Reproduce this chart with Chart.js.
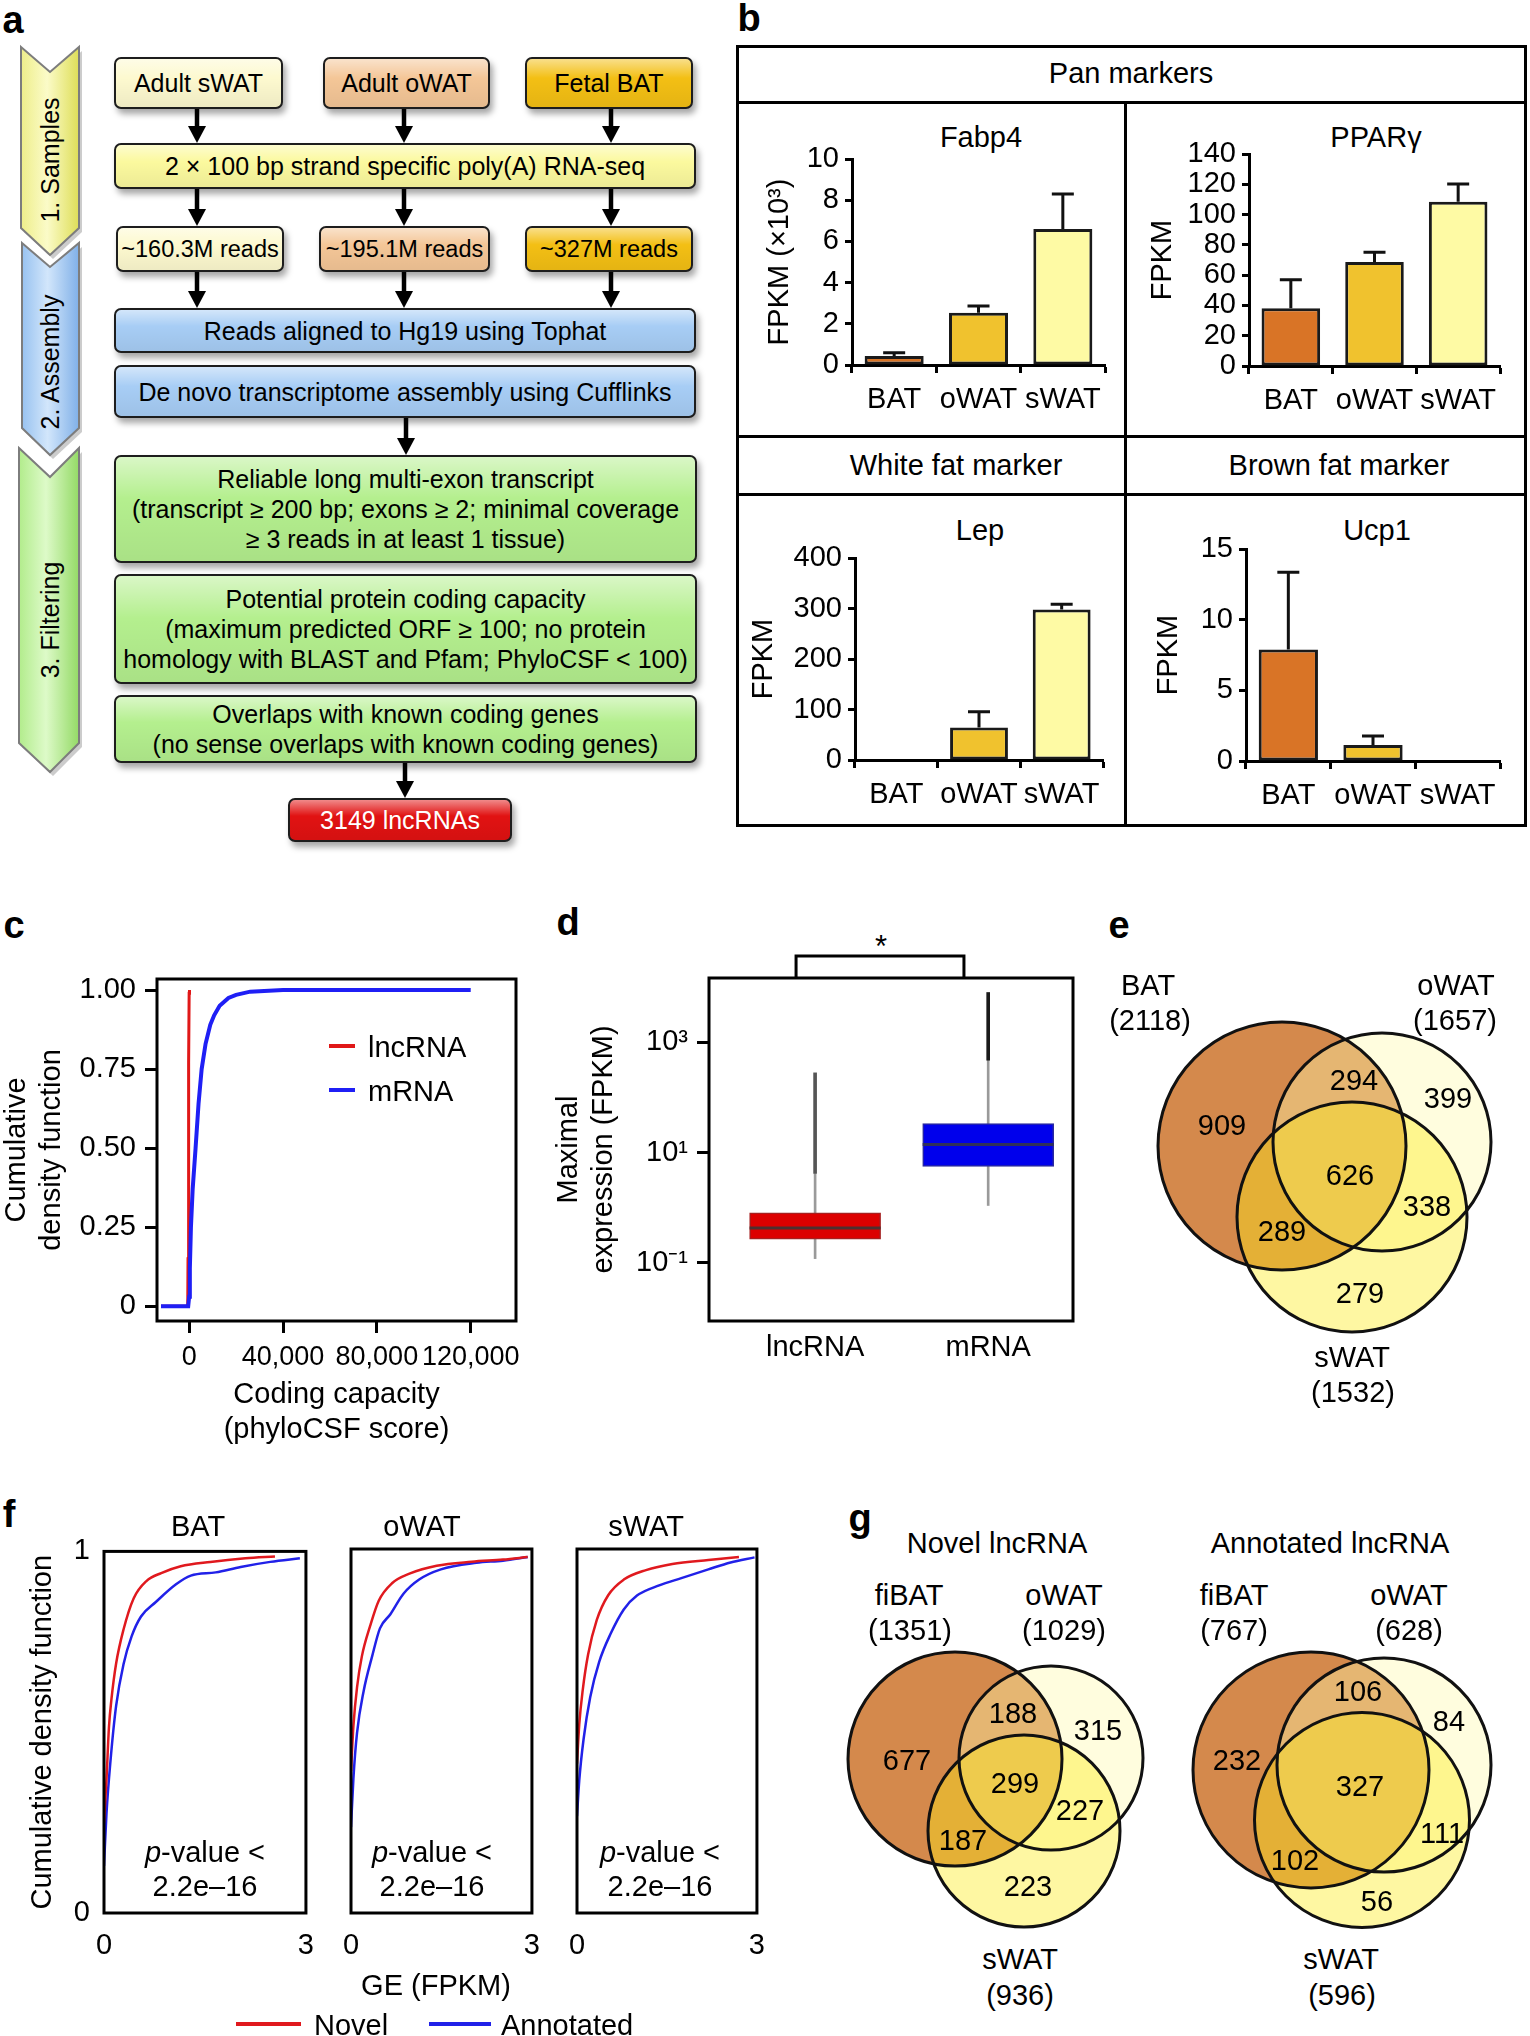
<!DOCTYPE html>
<html lang="en">
<head>
<meta charset="UTF-8">
<title>Adipose lncRNA figure</title>
<script src="https://cdn.jsdelivr.net/npm/chart.js"></script>
<style>
  body { margin: 0; background: #fff; }
  #page { position: relative; width: 1530px; height: 2036px; overflow: hidden; background: #fff;
          font-family: "Liberation Sans", Arial, Helvetica, sans-serif; color: #000; }
  #page canvas { position: absolute; }
  .t { position: absolute; white-space: nowrap; font-size: 29px; line-height: 1; transform: translate(-50%, -50%); }
  .tl { position: absolute; white-space: nowrap; font-size: 29px; line-height: 1; transform: translate(0, -50%); }
  .rot { position: absolute; white-space: nowrap; font-size: 25px; line-height: 1; transform: translate(-50%, -50%) rotate(-90deg); }
  .lab { position: absolute; font-weight: bold; font-size: 38px; line-height: 1; transform: translate(-50%, -50%); }
  .fb { position: absolute; box-sizing: border-box; border: 2.5px solid #1d1d1d; border-radius: 7px;
        display: flex; align-items: center; justify-content: center; text-align: center; white-space: nowrap;
        font-size: 25px; line-height: 30px; box-shadow: 3px 5px 6px rgba(0,0,0,0.35);
        background-image: linear-gradient(to bottom, rgba(255,255,255,0.5), rgba(255,255,255,0) 40%, rgba(0,0,0,0.06)); }
  .rule { position: absolute; background: #000; }
  .key { position: absolute; height: 4px; }
</style>
</head>
<body>
<div id="page">
  <svg width="720" height="880" style="position:absolute;left:0;top:0">
    <defs>
      <linearGradient id="gS" x1="0" x2="1"><stop offset="0" stop-color="#eeee8a"/><stop offset="0.45" stop-color="#fbfbc8"/><stop offset="1" stop-color="#dede58"/></linearGradient>
      <linearGradient id="gA" x1="0" x2="1"><stop offset="0" stop-color="#98c2f0"/><stop offset="0.45" stop-color="#d2e6fb"/><stop offset="1" stop-color="#80b0e8"/></linearGradient>
      <linearGradient id="gF" x1="0" x2="1"><stop offset="0" stop-color="#b2ec8c"/><stop offset="0.45" stop-color="#ddfac8"/><stop offset="1" stop-color="#94da66"/></linearGradient>
    </defs>
    <g fill="rgba(0,0,0,0.2)" transform="translate(3,4)">
      <polygon points="21,47 50,72 79,47 79,228 50,255 21,228"/>
      <polygon points="22,243 50,267 79,243 79,428 50,455 22,428"/>
      <polygon points="19,448 50,477 79,448 79,743 50,772 19,743"/>
    </g>
    <polygon points="21,47 50,72 79,47 79,228 50,255 21,228" fill="url(#gS)" stroke="#7d7d7d" stroke-width="2"/>
    <polygon points="22,243 50,267 79,243 79,428 50,455 22,428" fill="url(#gA)" stroke="#7d7d7d" stroke-width="2"/>
    <polygon points="19,448 50,477 79,448 79,743 50,772 19,743" fill="url(#gF)" stroke="#7d7d7d" stroke-width="2"/>
    <g id="arrows" fill="#000" stroke="#000"></g>
  </svg>
</div>
<script>
// ---------------- data ----------------
// b: marker gene expression (FPKM), mean and upper error
const bCats = ['BAT', 'oWAT', 'sWAT'];
const bColors = ['#d97426', '#f0c22e', '#fefaa4'];
const fabp4 = [0.44, 2.54, 6.6];
const fabp4Err = [0.16, 0.33, 1.7];
const pparg = [38.1, 68.6, 108.5];
const ppargErr = [18.8, 6.6, 11.7];
const lep = [0.8, 64.6, 297.9];
const lepErr = [0, 31, 10.6];
const ucp1 = [7.89, 1.13, 0.05];
const ucp1Err = [5.46, 0.64, 0];

// c: coding capacity CDF
const cXTicks = [0, 40000, 80000, 120000];
const cXLabels = ['0', '40,000', '80,000', '120,000'];
const cYTicks = [0, 0.25, 0.5, 0.75, 1];
const cYLabels = ['0', '0.25', '0.50', '0.75', '1.00'];
const lncX = [-12000, -600, -480, -300, -150, 0, 150];
const lncY = [0, 0, 0.15, 0.5, 0.77, 0.99, 1.0];
const mrnaX = [-12000, -400, 0, 300, 760, 1500, 2740, 4000, 5330, 7000, 9000, 10660, 13000, 16750, 20000, 26000, 40000, 120000];
const mrnaY = [0, 0, 0.03, 0.12, 0.25, 0.37, 0.5, 0.64, 0.75, 0.83, 0.89, 0.92, 0.95, 0.975, 0.985, 0.995, 1.0, 1.0];

// d: maximal expression boxplot (FPKM)
const dCats = ['lncRNA', 'mRNA'];
const dQ1 = [0.27, 5.6];
const dMedian = [0.43, 14];
const dQ3 = [0.81, 33.5];
const dWhiskLo = [0.12, 1.1];
const dWhiskHi = [4.2, 470];
const dOutlierMax = [277, 7900];
const dYTicks = [0.1, 10, 1000];
const dYLabels = ['10\u207B\u00B9', '10\u00B9', '10\u00B3'];

// e: lncRNA overlap between depots
const eSets = ['BAT', 'oWAT', 'sWAT'];
const eTotals = [2118, 1657, 1532];
const eRegions = ['909', '294', '399', '626', '338', '289', '279'];

// f: CDF of expression, novel vs annotated
const fXTicks = [0, 3];
const fYTicks = [0, 1];
const fTissues = ['BAT', 'oWAT', 'sWAT'];
const fBatNovel = [[0, 0.25], [0.037, 0.37], [0.074, 0.515], [0.11, 0.59], [0.18, 0.69], [0.29, 0.784], [0.44, 0.87], [0.63, 0.918], [0.85, 0.94], [1.14, 0.959], [1.58, 0.971], [2.1, 0.981], [2.54, 0.986]];
const fBatAnnot = [[0, 0.13], [0.037, 0.275], [0.096, 0.42], [0.18, 0.573], [0.29, 0.688], [0.41, 0.765], [0.55, 0.82], [0.77, 0.86], [1.07, 0.909], [1.29, 0.933], [1.66, 0.942], [2.03, 0.957], [2.47, 0.971], [2.91, 0.981]];
const fOwatNovel = [[0, 0.39], [0.04, 0.514], [0.1, 0.62], [0.18, 0.705], [0.32, 0.79], [0.46, 0.858], [0.68, 0.906], [0.98, 0.933], [1.42, 0.954], [2.0, 0.965], [2.52, 0.971], [2.93, 0.978]];
const fOwatAnnot = [[0, 0.236], [0.04, 0.37], [0.1, 0.495], [0.21, 0.61], [0.35, 0.705], [0.48, 0.782], [0.65, 0.82], [0.87, 0.877], [1.13, 0.916], [1.49, 0.944], [2.08, 0.962], [2.52, 0.968], [2.93, 0.978]];
const fSwatNovel = [[0, 0.41], [0.037, 0.517], [0.096, 0.613], [0.185, 0.71], [0.33, 0.805], [0.52, 0.873], [0.78, 0.916], [1.15, 0.942], [1.59, 0.959], [2.19, 0.97], [2.7, 0.978]];
const fSwatAnnot = [[0, 0.266], [0.037, 0.363], [0.11, 0.478], [0.22, 0.593], [0.37, 0.69], [0.56, 0.767], [0.78, 0.834], [1.0, 0.872], [1.37, 0.9], [1.74, 0.92], [2.19, 0.944], [2.56, 0.963], [2.96, 0.977]];

// g: novel vs annotated lncRNA overlaps
const gSets = ['fiBAT', 'oWAT', 'sWAT'];
const gNovelTotals = [1351, 1029, 936];
const gNovelRegions = ['677', '188', '315', '299', '227', '187', '223'];
const gAnnotTotals = [767, 628, 596];
const gAnnotRegions = ['232', '106', '84', '327', '111', '102', '56'];

// ---------------- layout helpers ----------------
const page = document.getElementById('page');

function text(html, x, y, cls, style) {
  const d = document.createElement('div');
  d.className = cls || 't';
  d.innerHTML = html;
  d.style.left = x + 'px';
  d.style.top = y + 'px';
  if (style) d.style.cssText += style;
  page.appendChild(d);
  return d;
}

function canvasAt(cv) {
  const c = document.createElement('canvas');
  c.width = cv.r - cv.l;
  c.height = cv.b - cv.t;
  c.style.left = cv.l + 'px';
  c.style.top = cv.t + 'px';
  c.style.width = (cv.r - cv.l) + 'px';
  c.style.height = (cv.b - cv.t) + 'px';
  page.appendChild(c);
  return c;
}

Chart.defaults.font.family = '"Liberation Sans", Arial, Helvetica, sans-serif';
Chart.defaults.font.size = 29;
Chart.defaults.color = '#000';
Chart.defaults.animation = false;
Chart.defaults.responsive = false;
Chart.defaults.events = [];
Chart.defaults.layout.autoPadding = false;
Chart.defaults.plugins.legend.display = false;
Chart.defaults.plugins.tooltip.enabled = false;

// box round the plot area (R style)
const frame = {
  id: 'frame',
  afterDatasetsDraw(chart, args, opts) {
    const { ctx, chartArea: a } = chart;
    ctx.save();
    ctx.lineWidth = opts.width || 3;
    ctx.strokeStyle = '#000';
    ctx.strokeRect(a.left, a.top, a.right - a.left, a.bottom - a.top);
    ctx.restore();
  }
};

// upper error bars for panel b
const errorBars = {
  id: 'errorBars',
  afterDatasetsDraw(chart, args, opts) {
    const { ctx } = chart;
    const y = chart.scales.y;
    const vals = chart.data.datasets[0].data;
    ctx.save();
    ctx.strokeStyle = '#111';
    ctx.lineWidth = 3;
    chart.getDatasetMeta(0).data.forEach((bar, i) => {
      const e = opts.errors[i];
      if (!e) return;
      const y0 = y.getPixelForValue(vals[i]);
      const y1 = y.getPixelForValue(vals[i] + e);
      ctx.beginPath();
      ctx.moveTo(bar.x, y0);
      ctx.lineTo(bar.x, y1);
      ctx.moveTo(bar.x - 11, y1);
      ctx.lineTo(bar.x + 11, y1);
      ctx.stroke();
    });
    ctx.restore();
  }
};

// ---------------- panel a: pipeline ----------------
const flow = [
  ['Adult sWAT', 114, 57, 283, 109, '#fdf9cf'],
  ['Adult oWAT', 323, 57, 490, 109, '#f4c697'],
  ['Fetal BAT', 525, 57, 693, 109, '#f3bf14'],
  ['2 × 100 bp strand specific poly(A) RNA-seq', 114, 143, 696, 189, '#fbf99e'],
  ['~160.3M reads', 116, 226, 284, 272, '#fdf9cf'],
  ['~195.1M reads', 319, 226, 490, 272, '#f4c697'],
  ['~327M reads', 525, 226, 693, 272, '#f3bf14'],
  ['Reads aligned to Hg19 using Tophat', 114, 308, 696, 353, '#a7cdf5'],
  ['De novo transcriptome assembly using Cufflinks', 114, 365, 696, 418, '#a7cdf5'],
  ['Reliable long multi-exon transcript<br>(transcript ≥ 200 bp; exons ≥ 2; minimal coverage<br>≥ 3 reads in at least 1 tissue)', 114, 455, 697, 563, '#b4ef8e'],
  ['Potential protein coding capacity<br>(maximum predicted ORF ≥ 100; no protein<br>homology with BLAST and Pfam; PhyloCSF &lt; 100)', 114, 574, 697, 684, '#b4ef8e'],
  ['Overlaps with known coding genes<br>(no sense overlaps with known coding genes)', 114, 695, 697, 763, '#b4ef8e'],
  ['3149 lncRNAs', 288, 798, 512, 842, '#e11212']
];
flow.forEach(([t, l, top, r, b, bg]) => {
  const d = document.createElement('div');
  d.className = 'fb';
  d.innerHTML = t;
  d.style.cssText += `left:${l}px;top:${top}px;width:${r - l}px;height:${b - top}px;background-color:${bg};`;
  if (bg === '#e11212') d.style.color = '#fff';
  if (t.indexOf('reads') > 0 && t.length < 15) d.style.fontSize = '23.5px';
  page.appendChild(d);
});

const arrowList = [[197, 109, 143], [404, 109, 143], [611, 109, 143],
  [197, 189, 226], [404, 189, 226], [611, 189, 226],
  [197, 272, 308], [404, 272, 308], [611, 272, 308],
  [406, 418, 455], [405, 763, 798]];
const svgNS = 'http://www.w3.org/2000/svg';
const arrowG = document.getElementById('arrows');
arrowList.forEach(([x, y1, y2]) => {
  const ln = document.createElementNS(svgNS, 'line');
  ln.setAttribute('x1', x); ln.setAttribute('x2', x);
  ln.setAttribute('y1', y1); ln.setAttribute('y2', y2 - 14);
  ln.setAttribute('stroke-width', '4.5');
  arrowG.appendChild(ln);
  const hd = document.createElementNS(svgNS, 'polygon');
  hd.setAttribute('points', `${x - 9},${y2 - 17} ${x + 9},${y2 - 17} ${x},${y2}`);
  hd.setAttribute('stroke', 'none');
  arrowG.appendChild(hd);
});
text('1. Samples', 50, 160, 'rot');
text('2. Assembly', 50, 362, 'rot');
text('3. Filtering', 50, 620, 'rot');
text('a', 13, 20, 'lab');

// ---------------- panel b: marker bars ----------------
text('b', 749, 18, 'lab');
[[736, 45, 791, 3], [736, 101, 791, 3], [736, 435, 791, 3], [736, 493, 791, 3], [736, 824, 791, 3]].forEach(([l, t, w, h]) =>
  text('', l, t, 'rule', `width:${w}px;height:${h}px;transform:none;`));
[[736, 45, 3, 782], [1524, 45, 3, 782], [1124, 101, 3, 726]].forEach(([l, t, w, h]) =>
  text('', l, t, 'rule', `width:${w}px;height:${h}px;transform:none;`));
text('Pan markers', 1131, 73);
text('White fat marker', 956, 465);
text('Brown fat marker', 1339, 465);
text('Fabp4', 981, 137);
text('PPAR\u03B3', 1376, 137);
text('Lep', 980, 530);
text('Ucp1', 1377, 530);

function barPanel(cv, area, vals, errs, yMax, yStep, yTitle) {
  return new Chart(canvasAt(cv), {
    type: 'bar',
    data: {
      labels: bCats,
      datasets: [{
        data: vals,
        backgroundColor: bColors,
        borderColor: '#1a1a1a',
        borderWidth: 3,
        borderSkipped: false,
        barPercentage: 0.7,
        categoryPercentage: 1
      }]
    },
    options: {
      layout: { padding: { top: area.t - cv.t, right: cv.r - area.r, left: 0, bottom: 0 } },
      scales: {
        x: {
          grid: { display: true, offset: true, drawOnChartArea: false, tickLength: 8, tickWidth: 3, tickColor: '#000' },
          border: { color: '#000', width: 3 },
          ticks: { padding: 10, autoSkip: false, maxRotation: 0 },
          afterFit: s => { s.height = cv.b - area.b; }
        },
        y: {
          min: 0, max: yMax,
          ticks: { stepSize: yStep, padding: 6, autoSkip: false },
          grid: { drawOnChartArea: false, tickLength: 7, tickWidth: 3, tickColor: '#000' },
          border: { color: '#000', width: 3 },
          title: { display: true, text: yTitle, padding: 0, font: { size: 29, lineHeight: 1.2 } },
          afterFit: s => { s.width = area.l - cv.l; }
        }
      },
      plugins: { errorBars: { errors: errs } }
    },
    plugins: [errorBars]
  });
}
barPanel({ l: 763, t: 115, r: 1118, b: 425 }, { l: 852, t: 159, r: 1105, b: 365 }, fabp4, fabp4Err, 10, 2, 'FPKM (\u00D710\u00B3)');
barPanel({ l: 1146, t: 110, r: 1515, b: 425 }, { l: 1249, t: 154, r: 1500, b: 366 }, pparg, ppargErr, 140, 20, 'FPKM');
barPanel({ l: 747, t: 515, r: 1115, b: 820 }, { l: 855, t: 558, r: 1103, b: 760 }, lep, lepErr, 400, 100, 'FPKM');
barPanel({ l: 1152, t: 505, r: 1515, b: 820 }, { l: 1246, t: 549, r: 1500, b: 761 }, ucp1, ucp1Err, 15, 5, 'FPKM');

// ---------------- panel c: coding capacity ----------------
text('c', 14, 925, 'lab');
{
  const cv = { l: 0, t: 950, r: 560, b: 1447 };
  const area = { l: 157, t: 979, r: 516, b: 1321 };
  new Chart(canvasAt(cv), {
    type: 'line',
    data: {
      datasets: [
        { data: mrnaX.map((x, i) => ({ x, y: mrnaY[i] })), borderColor: '#1f1ff5', borderWidth: 4 },
        { data: lncX.map((x, i) => ({ x, y: lncY[i] })), borderColor: '#e01818', borderWidth: 3 }
      ]
    },
    options: {
      elements: { point: { radius: 0 }, line: { tension: 0 } },
      layout: { padding: { top: area.t - cv.t, right: cv.r - area.r, left: 0, bottom: 0 } },
      scales: {
        x: {
          type: 'linear', min: -13700, max: 139300,
          afterBuildTicks: s => { s.ticks = cXTicks.map(v => ({ value: v })); },
          ticks: { callback: (v, i) => cXLabels[i], padding: 8, maxRotation: 0, autoSkip: false, font: { size: 27 } },
          grid: { drawOnChartArea: false, tickLength: 12, tickWidth: 3, tickColor: '#000' },
          border: { display: false },
          title: { display: true, text: ['Coding capacity', '(phyloCSF score)'], padding: 0, font: { size: 29, lineHeight: 1.2 } },
          afterFit: s => { s.height = cv.b - area.b; }
        },
        y: {
          min: -0.047, max: 1.035,
          afterBuildTicks: s => { s.ticks = cYTicks.map(v => ({ value: v })); },
          ticks: { callback: (v, i) => cYLabels[i], padding: 9 },
          grid: { drawOnChartArea: false, tickLength: 12, tickWidth: 3, tickColor: '#000' },
          border: { display: false },
          title: { display: true, text: ['Cumulative', 'density function'], padding: 0, font: { size: 29, lineHeight: 1.2 } },
          afterFit: s => { s.width = area.l - cv.l; }
        }
      },
      plugins: { frame: { width: 3 } }
    },
    plugins: [frame]
  });
}
text('', 329, 1044, 'key', 'width:26px;background:#e01818;');
text('lncRNA', 368, 1047, 'tl');
text('', 329, 1088, 'key', 'width:26px;background:#1f1ff5;');
text('mRNA', 368, 1091, 'tl');

// ---------------- panel d: maximal expression ----------------
text('d', 568, 922, 'lab');
text('*', 881, 946, 't', 'font-size:31px;');
const boxExtras = {
  id: 'boxExtras',
  afterDatasetsDraw(chart, args, opts) {
    const { ctx, chartArea: ca } = chart;
    const { x, y } = chart.scales;
    const boxes = chart.getDatasetMeta(0).data;
    ctx.save();
    ctx.lineWidth = 3;
    opts.median.forEach((m, i) => {
      const half = boxes[i].width / 2;
      const yy = y.getPixelForValue(m);
      ctx.strokeStyle = opts.medianColors[i];
      ctx.beginPath();
      ctx.moveTo(boxes[i].x - half, yy);
      ctx.lineTo(boxes[i].x + half, yy);
      ctx.stroke();
    });
    const x0 = x.getPixelForValue(opts.bracket[0]);
    const x1 = x.getPixelForValue(opts.bracket[1]);
    ctx.strokeStyle = '#000';
    ctx.beginPath();
    ctx.moveTo(x0, ca.top);
    ctx.lineTo(x0, ca.top - 22);
    ctx.lineTo(x1, ca.top - 22);
    ctx.lineTo(x1, ca.top);
    ctx.stroke();
    ctx.restore();
  }
};
{
  const cv = { l: 552, t: 930, r: 1090, b: 1380 };
  const area = { l: 709, t: 978, r: 1073, b: 1321 };
  const pos = dCats.map((c, i) => i + 1);
  new Chart(canvasAt(cv), {
    type: 'bar',
    data: {
      datasets: [
        { data: pos.map((p, i) => ({ x: p, y: [dQ1[i], dQ3[i]] })), backgroundColor: ['#dc0000', '#0000ec'],
          borderColor: ['#a52020', '#2a2aa0'], borderWidth: 1.5, borderSkipped: false, barThickness: 131, grouped: false },
        { data: pos.map((p, i) => ({ x: p, y: [dWhiskHi[i], dOutlierMax[i]] })), backgroundColor: ['#555', '#1a1a1a'],
          barThickness: 3, grouped: false },
        { data: pos.map((p, i) => ({ x: p, y: [dWhiskLo[i], dWhiskHi[i]] })), backgroundColor: '#9a9a9a',
          barThickness: 2, grouped: false }
      ]
    },
    options: {
      layout: { padding: { top: area.t - cv.t, right: cv.r - area.r, left: 0, bottom: 0 } },
      scales: {
        x: {
          type: 'linear', min: 0.387, max: 2.49, offset: false,
          afterBuildTicks: s => { s.ticks = pos.map(v => ({ value: v })); },
          ticks: { callback: (v, i) => dCats[i], padding: 10, maxRotation: 0, autoSkip: false },
          grid: { display: false, drawTicks: false, offset: false },
          border: { display: false },
          afterFit: s => { s.height = cv.b - area.b; }
        },
        y: {
          type: 'logarithmic', min: 0.00891, max: 14454,
          afterBuildTicks: s => { s.ticks = dYTicks.map(v => ({ value: v })); },
          ticks: { callback: (v, i) => dYLabels[i], padding: 9 },
          grid: { drawOnChartArea: false, tickLength: 12, tickWidth: 3, tickColor: '#000' },
          border: { display: false },
          title: { display: true, text: ['Maximal', 'expression (FPKM)'], padding: 0, font: { size: 29, lineHeight: 1.2 } },
          afterFit: s => { s.width = area.l - cv.l; }
        }
      },
      plugins: {
        frame: { width: 3 },
        boxExtras: { median: dMedian, medianColors: ['#4d3030', '#30305a'], bracket: [0.89, 1.86] }
      }
    },
    plugins: [frame, boxExtras]
  });
}

// ---------------- Venn diagrams (e, g) ----------------
const vennFills = ['rgb(212,137,76)', 'rgba(255,250,172,0.4)', 'rgba(253,235,23,0.4)'];
const vennText = {
  id: 'vennText',
  afterDatasetsDraw(chart, args, opts) {
    const { ctx } = chart;
    const { x, y } = chart.scales;
    ctx.save();
    ctx.font = '29px "Liberation Sans", Arial, sans-serif';
    ctx.fillStyle = '#000';
    ctx.textAlign = 'center';
    ctx.textBaseline = 'middle';
    opts.labels.forEach((t, i) => ctx.fillText(t, x.getPixelForValue(opts.pos[i][0]), y.getPixelForValue(opts.pos[i][1])));
    ctx.restore();
  }
};
function venn(cv, origin, circles, regions, regionPos) {
  const ds = circles.map((c, i) => ({
    data: [{ x: c[0], y: c[1], r: c[2] }], backgroundColor: vennFills[i], borderWidth: 0, order: 3 - i
  }));
  ds.push({ data: circles.map(c => ({ x: c[0], y: c[1], r: c[2] })), backgroundColor: 'rgba(0,0,0,0)',
    borderColor: '#111', borderWidth: 3, order: 0 });
  return new Chart(canvasAt(cv), {
    type: 'bubble',
    data: { datasets: ds },
    options: {
      layout: { padding: 0, autoPadding: false },
      clip: false,
      scales: {
        x: { display: false, min: cv.l - origin[0], max: cv.r - origin[0] },
        y: { display: false, min: origin[1] - cv.b, max: origin[1] - cv.t }
      },
      plugins: { vennText: { labels: regions, pos: regionPos } }
    },
    plugins: [vennText]
  });
}

// panel e
text('e', 1119, 925, 'lab');
venn({ l: 1130, t: 1000, r: 1520, b: 1345 }, [1282, 1146],
  [[0, 0, 124], [100, 4, 109], [70, -71, 115]], eRegions,
  [[-60, 19], [72, 64], [166, 46], [68, -31], [145, -62], [0, -87], [78, -149]]);
text(eSets[0], 1148, 985); text('(' + eTotals[0] + ')', 1150, 1020);
text(eSets[1], 1456, 985); text('(' + eTotals[1] + ')', 1455, 1020);
text(eSets[2], 1352, 1357); text('(' + eTotals[2] + ')', 1353, 1392);

// panel g
text('g', 860, 1518, 'lab');
text('Novel lncRNA', 997, 1543);
text('Annotated lncRNA', 1330, 1543);
venn({ l: 835, t: 1640, r: 1150, b: 1935 }, [955, 1759],
  [[0, 0, 107], [96, 1, 92], [69, -72, 96]], gNovelRegions,
  [[-48, -3], [58, 44], [143, 27], [60, -26], [125, -53], [8, -83], [73, -129]]);
venn({ l: 1180, t: 1640, r: 1505, b: 1935 }, [1311, 1770],
  [[0, 0, 118], [73, 5, 107], [51, -50, 107.5]], gAnnotRegions,
  [[-74, 8], [47, 77], [138, 47], [49, -18], [131, -65], [-16, -92], [66, -133]]);
text(gSets[0], 909, 1595); text('(' + gNovelTotals[0] + ')', 910, 1630);
text(gSets[1], 1064, 1595); text('(' + gNovelTotals[1] + ')', 1064, 1630);
text(gSets[2], 1020, 1959); text('(' + gNovelTotals[2] + ')', 1020, 1995);
text(gSets[0], 1234, 1595); text('(' + gAnnotTotals[0] + ')', 1234, 1630);
text(gSets[1], 1409, 1595); text('(' + gAnnotTotals[1] + ')', 1409, 1630);
text(gSets[2], 1341, 1959); text('(' + gAnnotTotals[2] + ')', 1342, 1995);

// ---------------- panel f: expression CDFs ----------------
text('f', 9, 1514, 'lab');
function cdfPanel(cv, area, novel, annot, withY) {
  return new Chart(canvasAt(cv), {
    type: 'line',
    data: {
      datasets: [
        { data: novel.map(p => ({ x: p[0], y: p[1] })), borderColor: '#e0191e', borderWidth: 2.5 },
        { data: annot.map(p => ({ x: p[0], y: p[1] })), borderColor: '#2121e8', borderWidth: 2.5 }
      ]
    },
    options: {
      elements: { point: { radius: 0 }, line: { cubicInterpolationMode: 'monotone' } },
      layout: { padding: { top: area.t - cv.t, right: cv.r - area.r, left: withY ? 0 : area.l - cv.l, bottom: 0 } },
      scales: {
        x: {
          type: 'linear', min: 0, max: 3,
          afterBuildTicks: s => { s.ticks = fXTicks.map(v => ({ value: v })); },
          ticks: { padding: 16, maxRotation: 0, autoSkip: false },
          grid: { display: false, drawTicks: false },
          border: { display: false },
          afterFit: s => { s.height = cv.b - area.b; }
        },
        y: {
          display: withY, min: 0, max: 1,
          afterBuildTicks: s => { s.ticks = fYTicks.map(v => ({ value: v })); },
          ticks: { padding: 14 },
          grid: { display: false, drawTicks: false },
          border: { display: false },
          title: { display: true, text: 'Cumulative density function', padding: 0, font: { size: 29, lineHeight: 1.2 } },
          afterFit: s => { s.width = area.l - cv.l; }
        }
      },
      plugins: { frame: { width: 3 } }
    },
    plugins: [frame]
  });
}
cdfPanel({ l: 26, t: 1520, r: 330, b: 1968 }, { l: 104, t: 1549, r: 309, b: 1913 }, fBatNovel, fBatAnnot, true);
cdfPanel({ l: 311, t: 1520, r: 556, b: 1968 }, { l: 331, t: 1549, r: 536, b: 1913 }, fOwatNovel, fOwatAnnot, false);
cdfPanel({ l: 537, t: 1520, r: 781, b: 1968 }, { l: 557, t: 1549, r: 761, b: 1913 }, fSwatNovel, fSwatAnnot, false);
[[198, 205], [422, 432], [646, 660]].forEach(([tx, px], i) => {
  text(fTissues[i], tx, 1526);
  text('<i>p</i>-value &lt;', px, 1852);
  text('2.2e\u201316', px, 1886);
});
text('GE (FPKM)', 436, 1985);
text('', 236, 2022, 'key', 'width:65px;background:#e0191e;');
text('Novel', 314, 2025, 'tl');
text('', 429, 2022, 'key', 'width:62px;background:#2121e8;');
text('Annotated', 501, 2025, 'tl');
</script>
</body>
</html>
